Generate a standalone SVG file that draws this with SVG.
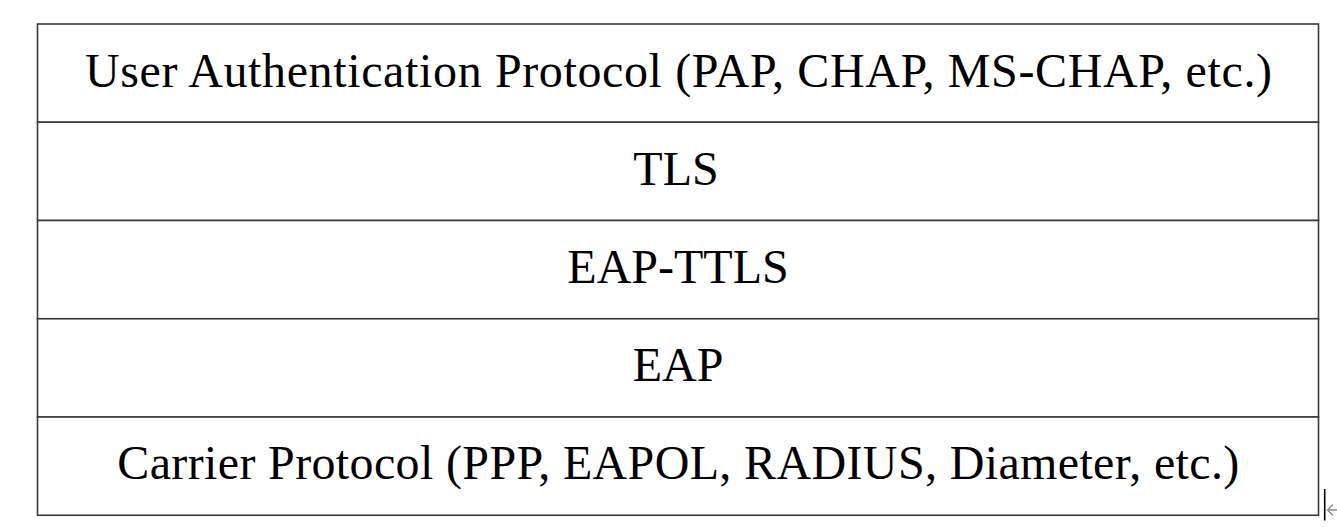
<svg xmlns="http://www.w3.org/2000/svg" width="1337" height="527" viewBox="0 0 1337 527">
<style>
.box{fill:#ffffff;stroke:#3a3a3a;stroke-width:1.6}
.lbl{font-family:"Liberation Serif","Times New Roman",serif;font-size:48px;fill:#000;text-anchor:middle}
</style>
<rect width="1337" height="527" fill="#ffffff"/>
<g id="layer-user-auth"><rect class="box" x="37.5" y="24" width="1281" height="98.25"/><text class="lbl" x="678.5" y="86.5" textLength="1187" lengthAdjust="spacing">User Authentication Protocol (PAP, CHAP, MS-CHAP, etc.)</text></g>
<g id="layer-tls"><rect class="box" x="37.5" y="122.25" width="1281" height="98.25"/><text class="lbl" x="676" y="184.7">TLS</text></g>
<g id="layer-eap-ttls"><rect class="box" x="37.5" y="220.5" width="1281" height="98.25"/><text class="lbl" x="678" y="282.9">EAP-TTLS</text></g>
<g id="layer-eap"><rect class="box" x="37.5" y="318.75" width="1281" height="98.25"/><text class="lbl" x="678" y="381.2">EAP</text></g>
<g id="layer-carrier"><rect class="box" x="37.5" y="417" width="1281" height="98.25"/><text class="lbl" x="678.3" y="479.4" textLength="1122" lengthAdjust="spacing">Carrier Protocol (PPP, EAPOL, RADIUS, Diameter, etc.)</text></g>
<g id="connectors">
<line x1="1324.7" y1="489" x2="1324.7" y2="520.5" stroke="#000" stroke-width="1.6"/>
<path d="M1337 510 H1327.5 M1333 504.5 L1327.5 510 L1333 515.5" fill="none" stroke="#8a8a8a" stroke-width="1.3"/>
</g>
</svg>
